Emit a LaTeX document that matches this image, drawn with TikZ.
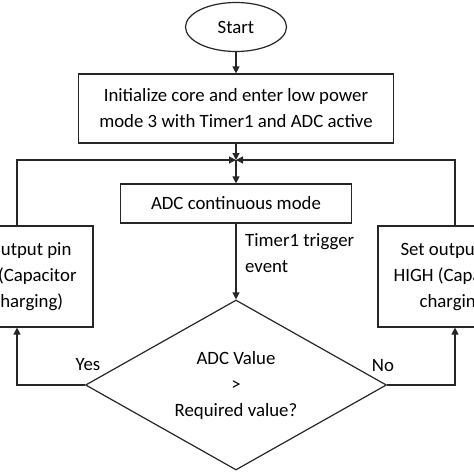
\documentclass[tikz,border=0pt]{standalone}
\usepackage{fontspec}
\setmainfont{Carlito}
\usetikzlibrary{arrows.meta, shapes.geometric}

\begin{document}
\begin{tikzpicture}[x=1pt, y=-1pt]
    % Definizione stili
    \tikzset{
        block/.style={
            rectangle,
            draw=black!85,
            line width=1.2pt,
            align=center,
            inner sep=0pt,
            minimum width=#1,
            font=\fontsize{18.8}{26}\selectfont
        },
        decision/.style={
            diamond,
            draw=black!85,
            line width=1.2pt,
            align=center,
            inner sep=0pt,
            aspect=1.77,
            minimum width=301pt,
            minimum height=170pt,
            font=\fontsize{18.8}{26}\selectfont
        },
        arrow/.style={-{Triangle[length=7pt,width=7pt]}, line width=1.2pt, draw=black!85},
        label/.style={font=\fontsize{18.8}{26}\selectfont, align=left, inner sep=0pt}
    }

    % Area del disegno
    \useasboundingbox (0,0) rectangle (474,474);
    \clip (0,0) rectangle (474,474);
    \fill[white] (0,0) rectangle (474,474);

    % Posizionamento assoluto dei blocchi
    \node[ellipse, draw=black!85, line width=1.2pt, inner sep=0pt,
        minimum width=101pt, minimum height=49pt,
        font=\fontsize{18.8}{26}\selectfont] at (236,27) (start) {Start};

    \node[block=315pt, minimum height=69pt] at (236,108.5) (init) {
        Initialize core and enter low power\\
        mode 3 with Timer1 and ADC active
    };

    \coordinate (merge) at (236,160);

    \node[block=231pt, minimum height=39pt] at (236,203.5) (adc) {ADC continuous mode};

    \node[decision] at (236,385) (check) {
        ADC Value\\
        >\\
        Required value?
    };

    \node[block=152pt, minimum height=101pt] at (17,276.5) (low) {
        Set output pin\\
        LOW (Capacitor\\
        discharging)
    };

    \node[block=154pt, minimum height=101pt] at (455,276.5) (high) {
        Set output pin\\
        HIGH (Capacitor\\
        charging)
    };

    % Frecce
    \draw[arrow] (start.south) -- (init.north);
    \draw[arrow] (init.south) -- (merge);
    \draw[arrow] (merge) -- (adc.north);
    \draw[arrow] (adc.south) -- (check.north);
    \draw[arrow] (low.north) |- (merge);
    \draw[arrow] (high.north) |- (merge);
    \draw[arrow] (check.west) -| (low.south);
    \draw[arrow] (check.east) -| (high.south);

    % Etichette
    \node[label, anchor=west] at (245,253) (trig) {Timer1 trigger\\event};
    \node[label] at (88,365) (yes) {Yes};
    \node[label] at (383,366) (no) {No};

\end{tikzpicture}
\end{document}
